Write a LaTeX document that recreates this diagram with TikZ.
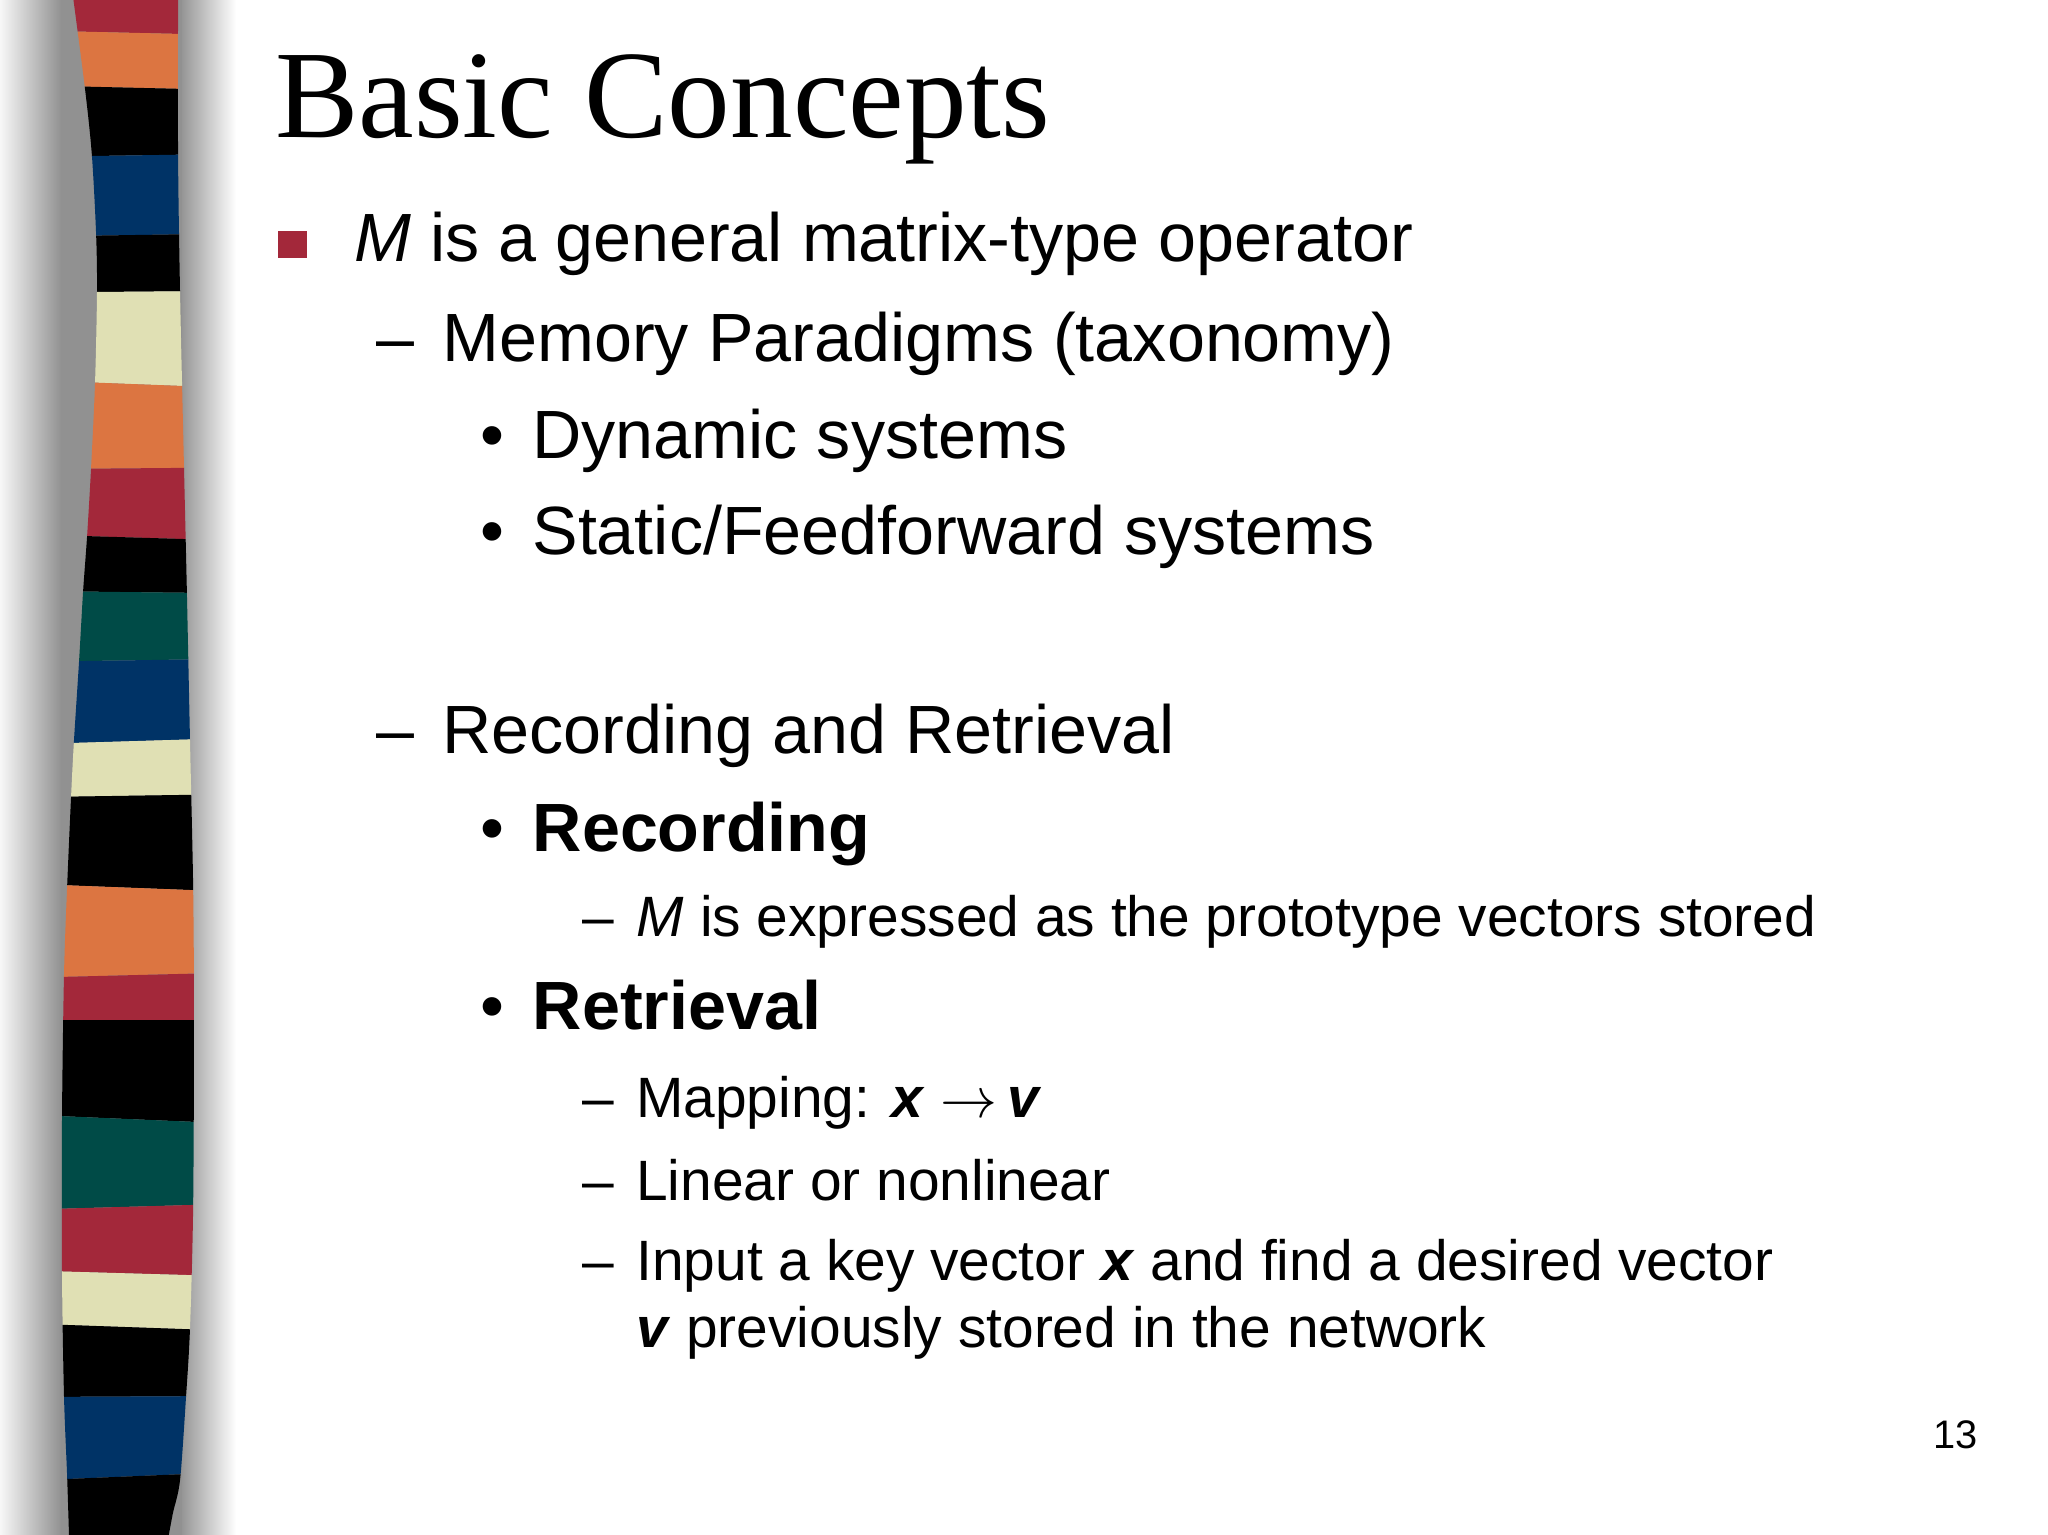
\RequirePackage{fix-cm}
\documentclass[tikz,border=0pt]{standalone}
\usepackage{fontspec}
\setmainfont{Liberation Sans}
\newfontfamily\titlefont{Liberation Serif}
\definecolor{sred}{HTML}{A3283A}
\definecolor{sorange}{HTML}{DC7541}
\definecolor{sblue}{HTML}{003366}
\definecolor{scream}{HTML}{E0E0B4}
\definecolor{sgreen}{HTML}{004B47}
\definecolor{sblack}{HTML}{000000}
\begin{document}
\begin{tikzpicture}[x=1pt,y=-1pt,
  txt/.style={anchor=base west,inner sep=0pt,outer sep=0pt},
  lvone/.style={txt,font=\fontsize{24}{28}\selectfont},
  lvfour/.style={txt,font=\fontsize{20}{24}\selectfont}]
\useasboundingbox (0,0) rectangle (720,539.3);
\fill[white] (0,0) rectangle (720,539.3);
% shadow behind the bar
\shade[left color=white!97!black,right color=black!43] (0,-1) rectangle (21.5,541);
\fill[black!43] (21.4,-1) rectangle (64.1,541);
\shade[left color=black!41,right color=white] (64,-1) rectangle (83,541);
% striped bar
\begin{scope}
\clip plot[smooth] coordinates {(25.7,-1) (29.9,31.3) (32.3,54.5) (33.8,82.6) (34.1,103) (33.4,135) (32,164.9) (30.6,188.8) (29.2,208.1) (27.8,232.4) (26,260.5) (25,279.8) (23.6,311.8) (22.5,342.8) (21.8,393.4) (21.8,447.5) (22.5,490.8) (23.6,518.9) (24.3,541)}
  -- plot[smooth] coordinates {(59.1,541) (60.8,531.9) (63.3,520.3) (65.4,491.1) (66.8,466.9) (67.9,424.3) (68.2,358.6) (67.9,311.8) (66.8,260.5) (65.7,208.1) (64.7,164.9) (63.3,103) (62.6,54.5) (62.6,-1)} -- cycle;
\fill[sred]    (15,-2) -- (75,-2) -- (75,12.2) -- (15,10.8) -- cycle;
\fill[sorange] (15,10.8) -- (75,12.2) -- (75,31.5) -- (15,30.1) -- cycle;
\fill[sblack]  (15,30.1) -- (75,31.5) -- (75,54.2) -- (15,55.1) -- cycle;
\fill[sblue]   (15,55.1) -- (75,54.2) -- (75,82.2) -- (15,83.1) -- cycle;
\fill[sblack]  (15,83.1) -- (75,82.2) -- (75,102.3) -- (15,102.8) -- cycle;
\fill[scream]  (15,102.8) -- (75,102.3) -- (75,136.1) -- (15,133.8) -- cycle;
\fill[sorange] (15,133.8) -- (75,136.1) -- (75,164.4) -- (15,164.9) -- cycle;
\fill[sred]    (15,164.9) -- (75,164.4) -- (75,189.8) -- (15,188.0) -- cycle;
\fill[sblack]  (15,188.0) -- (75,189.8) -- (75,208.5) -- (15,207.8) -- cycle;
\fill[sgreen]  (15,207.8) -- (75,208.5) -- (75,231.7) -- (15,232.6) -- cycle;
\fill[sblue]   (15,232.6) -- (75,231.7) -- (75,259.7) -- (15,261.5) -- cycle;
\fill[scream]  (15,261.5) -- (75,259.7) -- (75,279.3) -- (15,280.2) -- cycle;
\fill[sblack]  (15,280.2) -- (75,279.3) -- (75,313.2) -- (15,310.9) -- cycle;
\fill[sorange] (15,310.9) -- (75,313.2) -- (75,342.1) -- (15,343.6) -- cycle;
\fill[sred]    (15,343.6) -- (75,342.1) -- (75,358.6) -- (15,358.6) -- cycle;
\fill[sblack]  (15,358.6) -- (75,358.6) -- (75,394.7) -- (15,392.1) -- cycle;
\fill[sgreen]  (15,392.1) -- (75,394.7) -- (75,423.4) -- (15,425.1) -- cycle;
\fill[sred]    (15,425.1) -- (75,423.4) -- (75,448.5) -- (15,446.8) -- cycle;
\fill[scream]  (15,446.8) -- (75,448.5) -- (75,467.6) -- (15,465.5) -- cycle;
\fill[sblack]  (15,465.5) -- (75,467.6) -- (75,490.8) -- (15,491.1) -- cycle;
\fill[sblue]   (15,491.1) -- (75,490.8) -- (75,517.8) -- (15,520.3) -- cycle;
\fill[sblack]  (15,520.3) -- (75,517.8) -- (75,545) -- (15,545) -- cycle;
\end{scope}
% title
\node[txt,font=\titlefont\fontsize{44}{50}\selectfont] (title) at (96.7,48.2) {Basic Concepts};
% level 1
\fill[sred] (97.7,81.1) rectangle (107.9,90.7);
\node[lvone] (l1) at (124.6,91.9) {\textit{M} is a general matrix-type operator};
% level 2 / 3
\node[lvone] (d1) at (132.5,127.1) {–};
\node[lvone] (mp) at (155.6,127.1) {Memory Paradigms (taxonomy)};
\node[lvone] (b1) at (169,161.2) {•};
\node[lvone] (ds) at (187.2,161.2) {Dynamic systems};
\node[lvone] (b2) at (169,195.1) {•};
\node[lvone] (ss) at (187.2,195.1) {Static/Feedforward systems};
\node[lvone] (d2) at (132.5,265.0) {–};
\node[lvone] (rr) at (155.5,265.0) {Recording and Retrieval};
\node[lvone] (b3) at (169,299.5) {•};
\node[lvone] (rec) at (187.3,299.5) {\textbf{Recording}};
\node[lvfour] (d3) at (204.9,329.3) {–};
\node[lvfour] (mx) at (223.9,329.3) {\textit{M} is expressed as the prototype vectors stored};
\node[lvone] (b4) at (169,361.8) {•};
\node[lvone] (ret) at (187.3,361.8) {\textbf{Retrieval}};
\node[lvfour] (d4) at (204.9,392.9) {–};
\node[lvfour] (map) at (223.7,392.9) {Mapping: \textbf{\textit{x}} $\rightarrow$\,\textbf{\textit{v}}};
\node[lvfour] (d5) at (204.9,421.9) {–};
\node[lvfour] (lin) at (223.7,421.9) {Linear or nonlinear};
\node[lvfour] (d6) at (204.9,450.1) {–};
\node[lvfour] (inp) at (223.7,450.1) {Input a key vector \textbf{\textit{x}} and find a desired vector};
\node[lvfour] (inp2) at (223.7,473.7) {\textbf{\textit{v}} previously stored in the network};
% page number
\node[anchor=base east,inner sep=0pt,font=\fontsize{14}{16}\selectfont] (pnum) at (695.6,509.4) {13};
\end{tikzpicture}
\end{document}
